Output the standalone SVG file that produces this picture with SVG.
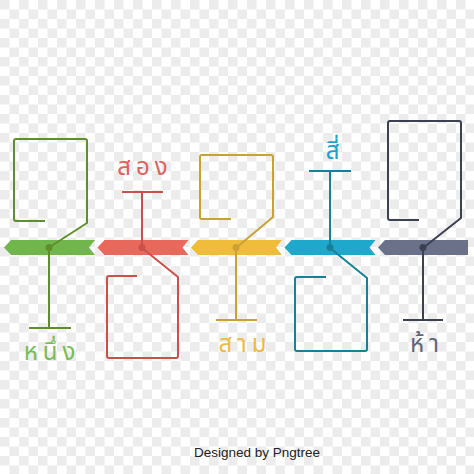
<svg xmlns="http://www.w3.org/2000/svg" width="474" height="474" viewBox="0 0 474 474">
<defs>
<pattern id="checker" width="19" height="19" patternUnits="userSpaceOnUse">
<rect width="19" height="19" fill="#ffffff"/>
<rect width="9.5" height="9.5" fill="#ececec"/>
<rect x="9.5" y="9.5" width="9.5" height="9.5" fill="#ececec"/>
</pattern>
</defs>
<style>
.ln{fill:none;stroke-width:2;stroke-linecap:butt;stroke-linejoin:round}
.lbl{font-family:"Noto Sans Thai","Noto Sans","DejaVu Sans",sans-serif;font-size:24px;text-anchor:middle;letter-spacing:5px}
.g .ln{stroke:#5e8f2a}.g .bar{fill:#70b64c}.g .dot{fill:#5e8f2a}.g text{fill:#78bd55}
.r .ln{stroke:#c9514a}.r .bar{fill:#e8685b}.r .dot{fill:#c9514a}.r text{fill:#e0625a}
.y .ln{stroke:#c9a235}.y .bar{fill:#f0bd3a}.y .dot{fill:#c9a235}.y text{fill:#efbb3c}
.b .ln{stroke:#17809a}.b .bar{fill:#1ea8cc}.b .dot{fill:#17809a}.b text{fill:#1aa3c7}
.k .ln{stroke:#3b4151}.k .bar{fill:#6b7189}.k .dot{fill:#3b4151}.k text{fill:#5f657b}
</style>
<rect width="474" height="474" fill="url(#checker)"/>
<g id="node-1" class="g">
<polygon class="bar" points="4,247.5 11,240 95,240 89,247.5 95,255 11,255"/>
<path class="ln" d="M45,221 H16 Q14,221 14,219 V141 Q14,139 16,139 H85 Q87,139 87,141 V223 L49,247.5 V328"/>
<line class="ln" x1="29" y1="328" x2="71" y2="328"/>
<circle class="dot" cx="49" cy="247.5" r="3.5"/>
<text class="lbl" x="52" y="360">หนึ่ง</text>
</g>
<g id="node-2" class="r">
<polygon class="bar" points="97.5,247.5 104.5,240 188.5,240 182.5,247.5 188.5,255 104.5,255"/>
<path class="ln" d="M137,276 H109 Q107,276 107,278 V356 Q107,358 109,358 H176 Q178,358 178,356 V277 L142,248 V192"/>
<line class="ln" x1="122" y1="192" x2="163" y2="192"/>
<circle class="dot" cx="142" cy="247.5" r="3.5"/>
<text class="lbl" x="145" y="175">สอง</text>
</g>
<g id="node-3" class="y">
<polygon class="bar" points="191,247.5 198,240 282,240 276,247.5 282,255 198,255"/>
<path class="ln" d="M231,219 H202 Q200,219 200,217 V157 Q200,155 202,155 H271 Q273,155 273,157 V217 L236,248 V320"/>
<line class="ln" x1="216" y1="320" x2="257" y2="320"/>
<circle class="dot" cx="236" cy="247.5" r="3.5"/>
<text class="lbl" x="245" y="352">สาม</text>
</g>
<g id="node-4" class="b">
<polygon class="bar" points="284.5,247.5 291.5,240 375.5,240 369.5,247.5 375.5,255 291.5,255"/>
<path class="ln" d="M326,277 H297 Q295,277 295,279 V349 Q295,351 297,351 H365 Q367,351 367,349 V278 L330,248 V171"/>
<line class="ln" x1="309" y1="171" x2="351" y2="171"/>
<circle class="dot" cx="330" cy="247.5" r="3.5"/>
<text class="lbl" x="335" y="159">สี่</text>
</g>
<g id="node-5" class="k">
<polygon class="bar" points="378,247.5 385,240 468,240 468,255 385,255"/>
<path class="ln" d="M419,220 H390 Q388,220 388,218 V123 Q388,121 390,121 H459 Q461,121 461,123 V218 L423,248 V320"/>
<line class="ln" x1="403" y1="320" x2="443" y2="320"/>
<circle class="dot" cx="423" cy="247.5" r="3.5"/>
<text class="lbl" x="427" y="352">ห้า</text>
</g>
<g id="connectors"></g>
<text x="257" y="457" font-family="Liberation Sans, Arial, sans-serif" font-size="13.5" fill="#222" text-anchor="middle">Designed by Pngtree</text>
</svg>
